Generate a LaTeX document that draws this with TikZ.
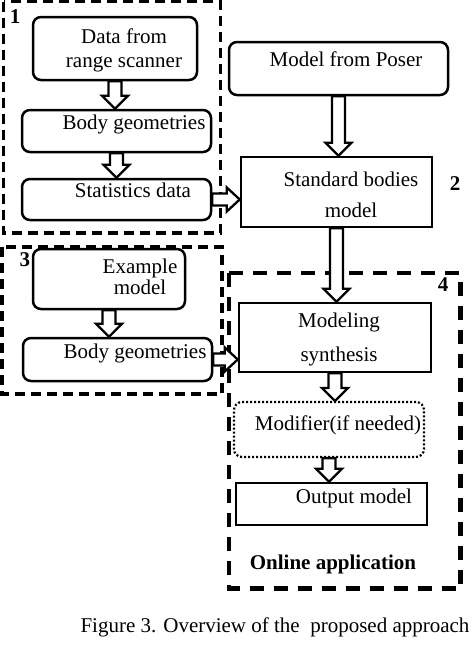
\documentclass[tikz,border=0pt]{standalone}
\usepackage{fontspec}
\setmainfont{Liberation Serif}
\usetikzlibrary{calc}
\tikzset{
  box/.style={draw, line width=2.5pt, inner sep=0pt},
  rbox/.style={box, rounded corners=8pt},
  dbox/.style={draw, line width=2.2pt, dash pattern=on 2pt off 2pt, rounded corners=8pt, inner sep=0pt},
  grp/.style={draw, line width=3.6pt, dash pattern=on 10pt off 6pt},
  grpb/.style={draw, line width=4.6pt, dash pattern=on 14pt off 10pt},
  txt/.style={anchor=base, inner sep=0pt, font=\fontsize{21}{25}\selectfont},
  btxt/.style={txt, font=\fontsize{21}{25}\selectfont\bfseries},
  blockarrow/.style={draw, line width=2.3pt, fill=white, line join=miter}
}
\newcommand\varrow[2]{\draw[blockarrow] let \p1=(#1.south), \p2=(#2.north) in
  (\x1-6.5pt,\y1) -- (\x1+6.5pt,\y1) -- (\x1+6.5pt,\y2+13pt) -- (\x1+13pt,\y2+13pt) -- (\x1,\y2)
  -- (\x1-13pt,\y2+13pt) -- (\x1-6.5pt,\y2+13pt) -- cycle;}
\newcommand\harrow[2]{\draw[blockarrow] let \p1=(#1.east), \p2=(#2.west) in
  (\x1,\y1+6pt) -- (\x2-13pt,\y1+6pt) -- (\x2-13pt,\y1+12pt) -- (\x2,\y1)
  -- (\x2-13pt,\y1-12pt) -- (\x2-13pt,\y1-6pt) -- (\x1,\y1-6pt) -- cycle;}
\begin{document}
\begin{tikzpicture}[x=1pt, y=-1pt]
\useasboundingbox (0,0) rectangle (474,672);
% group frames
\draw[grp] (3.5,1.5) rectangle (220.5,233);
\draw[grp] (2,247) rectangle (222,394);
\draw[grpb] (229,273) rectangle (460.5,588.5);
% boxes
\node[rbox, minimum width=164pt, minimum height=63pt] (n1) at (115,48.5) {};
\node[rbox, minimum width=189pt, minimum height=42pt] (n2) at (116.5,131) {};
\node[rbox, minimum width=189pt, minimum height=41pt] (n3) at (116.5,199.5) {};
\node[rbox, minimum width=219pt, minimum height=53pt] (n4) at (338.5,68.5) {};
\node[box, minimum width=191pt, minimum height=70pt] (n5) at (336.5,192) {};
\node[rbox, minimum width=152pt, minimum height=60pt] (n6) at (109,279) {};
\node[rbox, minimum width=189pt, minimum height=43pt] (n7) at (117.5,359.5) {};
\node[box, minimum width=192pt, minimum height=69pt] (n8) at (335,337.5) {};
\node[dbox, minimum width=190pt, minimum height=55pt] (n9) at (329,429.5) {};
\node[box, minimum width=191pt, minimum height=42pt] (n10) at (331.5,504) {};
% texts
\node[txt] (t1a) at (124,43) {Data from};
\node[txt] (t1b) at (124,67) {range scanner};
\node[txt] (t2) at (134,129) {Body geometries};
\node[txt] (t3) at (133,197) {Statistics data};
\node[txt] (t4) at (346,66) {Model from Poser};
\node[txt] (t5a) at (351,186) {Standard bodies};
\node[txt] (t5b) at (351,217) {model};
\node[txt] (t6a) at (140,273) {Example};
\node[txt] (t6b) at (140,294) {model};
\node[txt] (t7) at (135,358) {Body geometries};
\node[txt] (t8a) at (339,327) {Modeling};
\node[txt] (t8b) at (339,361) {synthesis};
\node[txt] (t9) at (338,430) {Modifier(if needed)};
\node[txt] (t10) at (354,503) {Output model};
\node[btxt] (l1) at (15,23) {1};
\node[btxt] (l2) at (455,190) {2};
\node[btxt] (l3) at (25,266) {3};
\node[btxt] (l4) at (443,291) {4};
\node[btxt] (onl) at (333,569) {Online application};
\node[txt] (cap) at (275,632) {Figure 3. Overview of the~ proposed approach};
% arrows
\varrow{n1}{n2}
\varrow{n2}{n3}
\varrow{n4}{n5}
\varrow{n5}{n8}
\varrow{n6}{n7}
\varrow{n8}{n9}
\varrow{n9}{n10}
\harrow{n3}{n5}
\harrow{n7}{n8}
\end{tikzpicture}
\end{document}
